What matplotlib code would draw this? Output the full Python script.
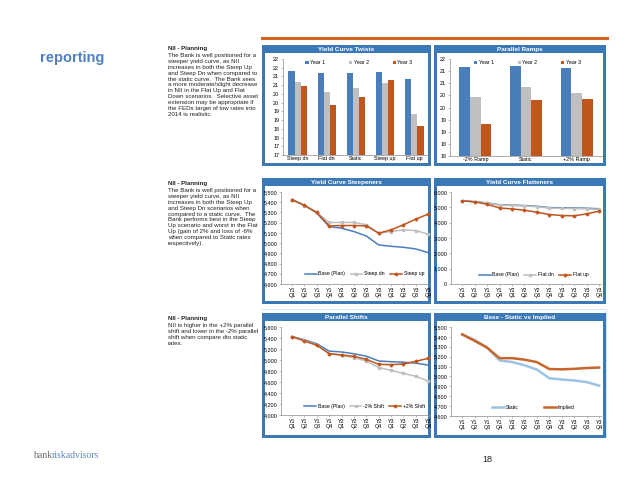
import numpy as np
import matplotlib
matplotlib.use("Agg")
import matplotlib.pyplot as plt
from matplotlib.patches import Rectangle
from matplotlib.ticker import FuncFormatter, FixedLocator

plt.rcParams['font.family'] = ['Liberation Sans', 'DejaVu Sans']

# ---- data ----
twist_cats = ["Steep dn", "Flat dn", "Static", "Steep up", "Flat up"]
twist_y1 = [21.3, 21.2, 21.2, 21.27, 20.85]
twist_y2 = [20.7, 20.1, 20.32, 20.63, 18.85]
twist_y3 = [20.47, 19.37, 19.8, 20.8, 18.14]

ramp_cats = ["-2% Ramp", "Static", "+2% Ramp"]
ramp_y1 = [21.16, 21.22, 21.13]
ramp_y2 = [19.93, 20.34, 20.11]
ramp_y3 = [18.84, 19.81, 19.84]

quarters = ["Y1\nQ1", "Y1\nQ2", "Y1\nQ3", "Y1\nQ4", "Y2\nQ1", "Y2\nQ2",
            "Y2\nQ3", "Y2\nQ4", "Y3\nQ1", "Y3\nQ2", "Y3\nQ3", "Y3\nQ4"]
base_plan = [5425, 5369, 5293, 5162, 5146, 5113, 5070, 4982, 4969, 4959, 4943, 4907]
steep_dn = [5425, 5365, 5295, 5202, 5202, 5202, 5180, 5097, 5113, 5130, 5123, 5087]
steep_up = [5425, 5369, 5300, 5169, 5172, 5172, 5169, 5097, 5130, 5179, 5234, 5284]
flat_dn = [5425, 5360, 5280, 5150, 5120, 5090, 5040, 4950, 4930, 4920, 4900, 4870]
flat_up = [5425, 5355, 5200, 4960, 4900, 4810, 4680, 4530, 4465, 4445, 4575, 4750]
shift_dn = [5425, 5355, 5275, 5115, 5085, 5042, 4982, 4861, 4812, 4758, 4703, 4618]
shift_up = [5425, 5345, 5267, 5115, 5091, 5067, 5012, 4921, 4915, 4927, 4976, 5030]
implied = [5425, 5360, 5291, 5185, 5185, 5170, 5145, 5075, 5072, 5077, 5085, 5090]

text1 = ["The Bank is well positioned for a", "steeper yield curve, as NII",
         "increases in both the Steep Up", "and Steep Dn when compared to",
         "the static curve.  The Bank sees", "a more moderate/slight decrease",
         "in NII in the Flat Up and Flat", "Down scenarios.  Selective asset",
         "extension may be appropriate if", "the FEDs target of low rates into",
         "2014 is realistic."]
text2 = ["The Bank is well positioned for a", "steeper yield curve, as NII",
         "increases in both the Steep Up", "and Steep Dn scenarios when",
         "compared to a static curve.  The", "Bank performs best in the Steep",
         "Up scenario and worst in the Flat", "Up (gain of 2% and loss of -6%",
         "when compared to Static rates", "respectively)."]
text3 = ["NII is higher in the +2% parallel", "shift and lower in the -2% parallel",
         "shift when compare dto static", "rates."]

FRAME = '#3b78b8'
BLUE = '#4a7ebb'
GRAY = '#bfbfbf'
ORANGE = '#c0561c'
LIGHTBLUE = '#9cc2e5'
AXC = '#8c8c8c'

W, H = 638, 479
fig = plt.figure(figsize=(W / 100, H / 100), dpi=100)
fig.patch.set_facecolor('white')


def box(x0, y0, x1, y1):
    return [x0 / W, 1 - y1 / H, (x1 - x0) / W, (y1 - y0) / H]


def frame(x0, y0, x1, y1, title):
    fig.add_artist(Rectangle((x0 / W, 1 - y1 / H), (x1 - x0) / W, (y1 - y0) / H,
                             transform=fig.transFigure, facecolor=FRAME,
                             edgecolor='none', zorder=-3))
    fig.add_artist(Rectangle(((x0 + 3) / W, 1 - (y1 - 3) / H), (x1 - x0 - 6) / W,
                             (y1 - y0 - 11) / H, transform=fig.transFigure,
                             facecolor='white', edgecolor='none', zorder=-2))
    fig.text((x0 + x1) / 2 / W, 1 - (y0 + 4.2) / H, title, color='white',
             fontsize=4.6, fontweight='bold', ha='center', va='center')


def style(ax):
    ax.set_facecolor('none')
    for s in ['top', 'right']:
        ax.spines[s].set_visible(False)
    for s in ['left', 'bottom']:
        ax.spines[s].set_color(AXC)
        ax.spines[s].set_linewidth(0.5)
    ax.tick_params(labelsize=3.9, length=1.5, width=0.4, color=AXC, pad=1.2)


def bar_chart(rect, cats, y1, y2, y3, lo, hi, leg):
    ax = fig.add_axes(box(*rect))
    x = np.arange(len(cats))
    w = 0.21
    ax.bar(x - w, y1, w, color=BLUE, label='Year 1')
    ax.bar(x, y2, w, color=GRAY, label='Year 2')
    ax.bar(x + w, y3, w, color=ORANGE, label='Year 3')
    ax.set_xlim(-0.5, len(cats) - 0.5)
    ax.set_ylim(lo, hi)
    ax.yaxis.set_major_locator(FixedLocator(np.arange(lo, hi + 0.01, 0.5)))
    ax.yaxis.set_major_formatter(FuncFormatter(lambda v, p: f"{int(np.floor(v + 0.5))}"))
    ax.set_xticks(x)
    ax.set_xticklabels(cats)
    style(ax)
    ax.tick_params(axis='x', length=0, pad=1.0)
    ax.legend(loc='center', bbox_to_anchor=leg, ncol=3, fontsize=3.8, frameon=False,
              handlelength=0.6, handleheight=0.6, handletextpad=0.3, columnspacing=4.5)
    return ax


def line_chart(rect, series, lo, hi, step, leg, colsp=1.0):
    ax = fig.add_axes(box(*rect))
    x = np.arange(len(quarters))
    for vals, lab, kw in series:
        ax.plot(x, vals, label=lab, **kw)
    ax.set_xlim(-0.9, 11.15)
    ax.set_ylim(lo, hi)
    ax.set_yticks(np.arange(lo, hi + 1, step))
    ax.yaxis.set_major_formatter(FuncFormatter(lambda v, p: f"{v:,.0f}"))
    ax.set_xticks(x)
    ax.set_xticklabels(quarters, linespacing=1.0)
    style(ax)
    ax.legend(loc='center', bbox_to_anchor=leg, ncol=len(series), fontsize=3.7,
              frameon=False, handlelength=2.3, handletextpad=0.35, columnspacing=colsp)
    return ax


base_kw = dict(color=BLUE, lw=1.1)
gray_kw = dict(color=GRAY, lw=1.1, marker='s', ms=1.6)
orng_kw = dict(color=ORANGE, lw=1.1, marker='D', ms=1.5)

# slide decorations
fig.text(40 / W, 1 - 58 / H, "reporting", color='#4f81bd', fontsize=10.5,
         fontweight='bold', va='center', ha='left')
fig.add_artist(plt.Line2D([262 / W, 607 / W], [1 - 38 / H, 1 - 38 / H],
                          color='#d0661f', lw=2.2, transform=fig.transFigure))
fig.add_artist(plt.Line2D([262 / W, 606 / W, 606 / W], [1 - 309 / H, 1 - 309 / H, 1 - 437 / H],
                          color='#d5e6f5', lw=0.8, transform=fig.transFigure, zorder=-4))


def paragraph(x, y, lines):
    fig.text(x / W, 1 - y / H, "NII - Planning", fontsize=4.45, fontweight='bold',
             va='top', ha='left', color='#222222')
    fig.text(x / W, 1 - (y + 7) / H, "\n".join(lines), fontsize=4.45, va='top',
             ha='left', color='#222222', linespacing=1.22)


paragraph(168, 46, text1)
paragraph(168, 181, text2)
paragraph(168, 316, text3)

# frames
frame(262, 45, 431, 166, "Yield Curve Twists")
frame(434, 45, 606, 166, "Parallel Ramps")
frame(262, 178, 431, 304, "Yield Curve Steepeners")
frame(434, 178, 606, 304, "Yield Curve Flatteners")
frame(262, 313, 431, 438, "Parallel Shifts")
frame(434, 313, 606, 438, "Base - Static vs Implied")

bar_chart((283, 59, 429, 155), twist_cats, twist_y1, twist_y2, twist_y3, 16.5, 22, (0.52, 0.96))
bar_chart((450, 59, 602, 156), ramp_cats, ramp_y1, ramp_y2, ramp_y3, 17.5, 21.5, (0.51, 0.96))

line_chart((281, 192, 430, 284),
           [(base_plan, "Base (Plan)", base_kw), (steep_dn, "Steep dn", gray_kw),
            (steep_up, "Steep up", orng_kw)], 4600, 5500, 100, (0.56, 0.11))
line_chart((451, 192, 601, 284),
           [(base_plan, "Base (Plan)", base_kw), (flat_dn, "Flat dn", gray_kw),
            (flat_up, "Flat up", orng_kw)], 0, 6000, 1000, (0.55, 0.10))
line_chart((281, 327, 430, 415),
           [(base_plan, "Base (Plan)", base_kw), (shift_dn, "-2% Shift", gray_kw),
            (shift_up, "+2% Shift", orng_kw)], 4000, 5600, 200, (0.56, 0.10))
line_chart((451, 327, 601, 416),
           [(base_plan, "Static", dict(color=LIGHTBLUE, lw=1.8)),
            (implied, "Implied", dict(color='#c8652a', lw=1.8))],
           4600, 5500, 100, (0.55, 0.10), colsp=5.0)

# footer
r = fig.canvas.get_renderer()
t1 = fig.text(33 / W, 1 - 455 / H, "bank", fontsize=7, family='Liberation Serif',
              color='#6f6f6f', va='center', ha='left')
bb = t1.get_window_extent(renderer=r)
fig.text(bb.x1 / (W * fig.dpi / 100), 1 - 455 / H, "riskadvisors", fontsize=7,
         family='Liberation Serif', color='#5f87bb', va='center', ha='left')
fig.text(487 / W, 1 - 460 / H, "18", fontsize=6.5, color='#222222', va='center', ha='center')

fig.savefig("out.png", dpi=100, facecolor='white')
